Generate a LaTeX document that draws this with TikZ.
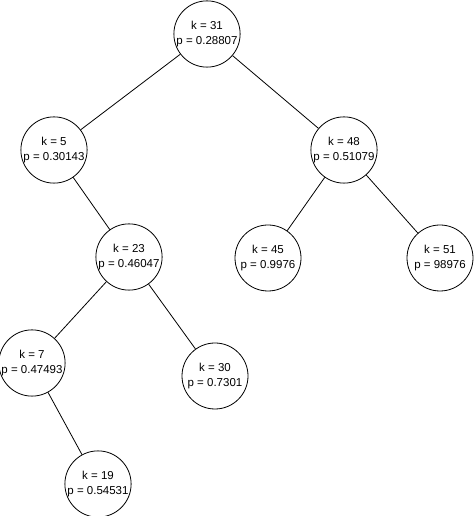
\documentclass[tikz,border=0pt]{standalone}
\usepackage{fontspec}
\setmainfont{Liberation Sans}
\usepackage{tikz}
\tikzstyle{keynode} = [circle, draw=black, line width=0.8pt, minimum size=66pt, inner sep=0pt, align=center, font=\fontsize{11.5}{15}\selectfont, fill=white]
\tikzstyle{edge} = [line width=0.8pt]

\begin{document}
\begin{tikzpicture}[x=1pt, y=1pt]
\useasboundingbox (0,0) rectangle (474,516);

\node (k31) [keynode] at (207,482) {k = 31\\p = 0.28807};
\node (k5) [keynode] at (54,366) {k = 5\\p = 0.30143};
\node (k48) [keynode] at (344,366) {k = 48\\p = 0.51079};
\node (k23) [keynode] at (129,259) {k = 23\\p = 0.46047};
\node (k45) [keynode] at (268,258) {k = 45\\p = 0.9976};
\node (k51) [keynode] at (440,258) {k = 51\\p = 98976};
\node (k7) [keynode] at (32,153) {k = 7\\p = 0.47493};
\node (k30) [keynode] at (215,140) {k = 30\\p = 0.7301};
\node (k19) [keynode] at (98,32) {k = 19\\p = 0.54531};
\draw [edge] (k31) -- (k5);
\draw [edge] (k31) -- (k48);
\draw [edge] (k5) -- (k23);
\draw [edge] (k48) -- (k45);
\draw [edge] (k48) -- (k51);
\draw [edge] (k23) -- (k7);
\draw [edge] (k23) -- (k30);
\draw [edge] (k7) -- (k19);

\end{tikzpicture}
\end{document}
